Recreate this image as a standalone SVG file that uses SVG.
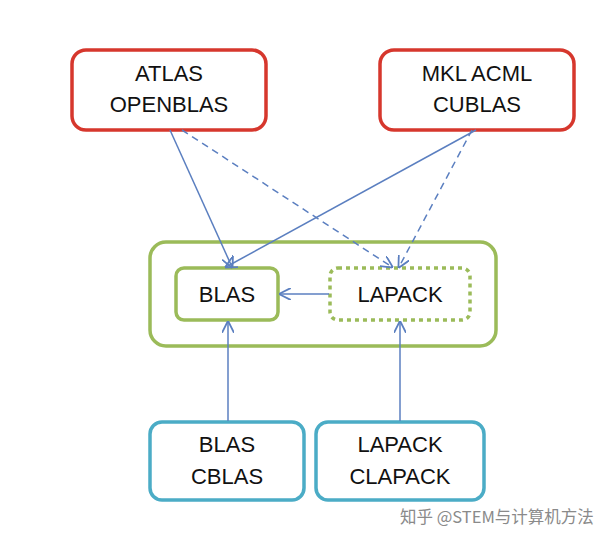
<svg xmlns="http://www.w3.org/2000/svg" width="610" height="543" viewBox="0 0 610 543">
<defs>
<style>
.red{fill:#fff;stroke:#d6372d;stroke-width:3.5}
.grn{fill:#fff;stroke:#9bbb59;stroke-width:3.5}
.blu{fill:#fff;stroke:#4bacc6;stroke-width:3.5}
.t{font-family:"Liberation Sans",Arial,sans-serif;font-size:22px;fill:#111;text-anchor:middle}
.c{stroke:#5b7fc0;stroke-width:1.5;fill:none;marker-end:url(#a)}
.d{stroke-dasharray:7,5}
</style>
<marker id="a" viewBox="0 0 10 10" refX="9" refY="5" markerWidth="8" markerHeight="8" orient="auto"><path d="M0,0 L10,5 L0,10" fill="none" stroke="#5b7fc0" stroke-width="1.5"/></marker>
</defs>
<rect width="610" height="543" fill="#fff"/>
<g id="atlas"><rect class="red" x="72" y="50" width="194" height="80" rx="14"/><text class="t" x="169" y="81">ATLAS</text><text class="t" x="169" y="112">OPENBLAS</text></g>
<g id="mkl"><rect class="red" x="380" y="50" width="194" height="80" rx="14"/><text class="t" x="477" y="81">MKL ACML</text><text class="t" x="477" y="112">CUBLAS</text></g>
<g id="group"><rect class="grn" x="150" y="242" width="346" height="104" rx="16"/></g>
<g id="blas"><rect class="grn" x="176" y="268" width="102" height="52" rx="8"/><text class="t" x="227" y="302">BLAS</text></g>
<g id="lapack"><rect class="grn" x="330" y="268" width="140" height="52" rx="8" stroke-dasharray="4,4"/><text class="t" x="400" y="302">LAPACK</text></g>
<g id="cblas"><rect class="blu" x="150" y="422" width="154" height="78" rx="12"/><text class="t" x="227" y="452">BLAS</text><text class="t" x="227" y="484">CBLAS</text></g>
<g id="clapack"><rect class="blu" x="316" y="422" width="168" height="78" rx="12"/><text class="t" x="400" y="452">LAPACK</text><text class="t" x="400" y="484">CLAPACK</text></g>
<g id="connectors">
<line class="c" x1="170" y1="130" x2="232" y2="267"/>
<line class="c d" x1="182" y1="130" x2="392" y2="267"/>
<line class="c" x1="476" y1="130" x2="226" y2="267"/>
<line class="c d" x1="472" y1="130" x2="399" y2="267"/>
<line class="c" x1="329" y1="294" x2="280" y2="294"/>
<line class="c" x1="228" y1="421" x2="228" y2="322"/>
<line class="c" x1="400" y1="421" x2="400" y2="322"/>
</g>
<text x="400" y="523" font-family="'Noto Sans CJK SC',sans-serif" font-size="16.5" fill="#8a8a8a">知乎 @STEM与计算机方法</text>
</svg>
